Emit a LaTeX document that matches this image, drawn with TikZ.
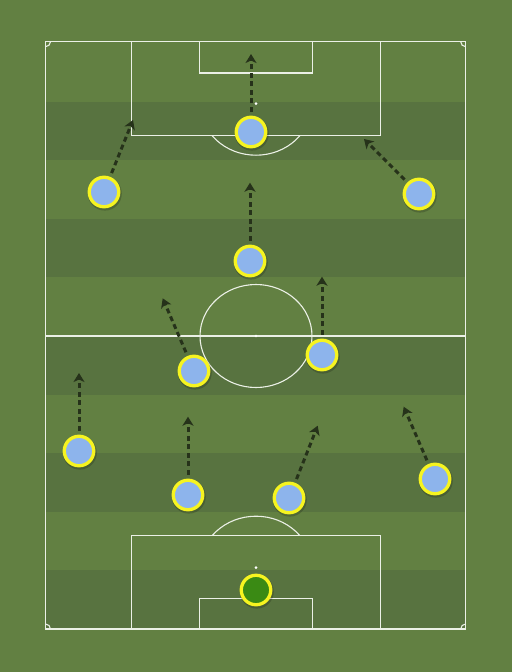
\documentclass[tikz,border=0pt]{standalone}
\usetikzlibrary{arrows.meta}
\definecolor{grass}{RGB}{98,128,66}
\definecolor{stripe}{RGB}{88,115,64}
\definecolor{pline}{RGB}{235,240,230}
\definecolor{player}{RGB}{141,180,236}
\definecolor{ring}{RGB}{246,244,32}
\definecolor{keeper}{RGB}{58,138,20}
\definecolor{run}{RGB}{38,50,26}
\begin{document}
\begin{tikzpicture}[x=1pt,y=-1pt,
  fieldline/.style={draw=pline,line width=1.1pt},
  plr/.style={circle,minimum size=29.5pt,inner sep=0pt,fill=player,draw=ring,line width=3.3pt},
  gk/.style={plr,fill=keeper},
  runarrow/.style={draw=run,line width=3pt,dash pattern=on 5pt off 3.5pt,-{Stealth[length=9pt,width=11pt,inset=2.5pt]},shorten <=4pt}]
\useasboundingbox (0,0) rectangle (512,672);
\fill[grass] (0,0) rectangle (512,672);
% stripes
\foreach \a/\b in {101.7/160,218.5/277,336/394.5,453/511.7,570/629}
  \fill[stripe] (45.5,\a) rectangle (465.7,\b);
% field outline
\draw[fieldline] (45.5,41.7) rectangle (465.7,629);
\draw[fieldline] (45.5,336) -- (465.7,336);
\draw[fieldline] (256,336) ellipse (56 and 51.5);
\fill[white] (256,336) circle (1.3);
% top penalty area
\draw[fieldline] (131.7,41.7) rectangle (380.7,135.3);
\draw[fieldline] (199.3,41.7) rectangle (312.3,73);
\fill[white] (256,103.7) circle (1.5);
\begin{scope}
  \clip (0,135.3) rectangle (512,300);
  \draw[fieldline] (256,103.7) ellipse (56 and 51.5);
\end{scope}
% bottom penalty area
\draw[fieldline] (131.7,535.7) rectangle (380.7,629);
\draw[fieldline] (199.3,598.3) rectangle (312.3,629);
\fill[white] (256,567.7) circle (1.5);
\begin{scope}
  \clip (0,380) rectangle (512,535.7);
  \draw[fieldline] (256,567.7) ellipse (56 and 51.5);
\end{scope}
% corners
\begin{scope}
  \clip (45.5,41.7) rectangle (465.7,629);
  \foreach \cx/\cy in {45.5/41.7,465.7/41.7,45.5/629,465.7/629}
    \draw[fieldline] (\cx,\cy) circle (5);
\end{scope}
% arrow tips
\coordinate (t1) at (251,54);
\coordinate (t2) at (133,120);
\coordinate (t3) at (364,139);
\coordinate (t4) at (250,182.7);
\coordinate (t5) at (162.7,298.3);
\coordinate (t6) at (322,276.7);
\coordinate (t7) at (79,373);
\coordinate (t8) at (188,416.7);
\coordinate (t9) at (317.7,425.7);
\coordinate (t10) at (403.7,406.7);
% shadows
\foreach \x/\y in {251/132,104/192,419/194,250/261,194/371,322/355,79/451,188/495,289/498,435/479,256/590}
  \fill[black,opacity=0.18] (\x+0.8,\y+1.6) circle (17);
\path (251,132) coordinate (c1) (104,192) coordinate (c2) (419,194) coordinate (c3)
      (250,261) coordinate (c4) (194,371) coordinate (c5) (322,355) coordinate (c6)
      (79,451) coordinate (c7) (188,495) coordinate (c8) (289,498) coordinate (c9)
      (435,479) coordinate (c10);
\node[plr] (p1) at (c1) {};
\node[plr] (p2) at (c2) {};
\node[plr] (p3) at (c3) {};
\node[plr] (p4) at (c4) {};
\node[plr] (p5) at (c5) {};
\node[plr] (p6) at (c6) {};
\node[plr] (p7) at (c7) {};
\node[plr] (p8) at (c8) {};
\node[plr] (p9) at (c9) {};
\node[plr] (p10) at (c10) {};
\node[gk] (gk) at (256,590) {};
\foreach \i in {1,...,10}
  \draw[runarrow] (p\i) -- (t\i);
\end{tikzpicture}
\end{document}
